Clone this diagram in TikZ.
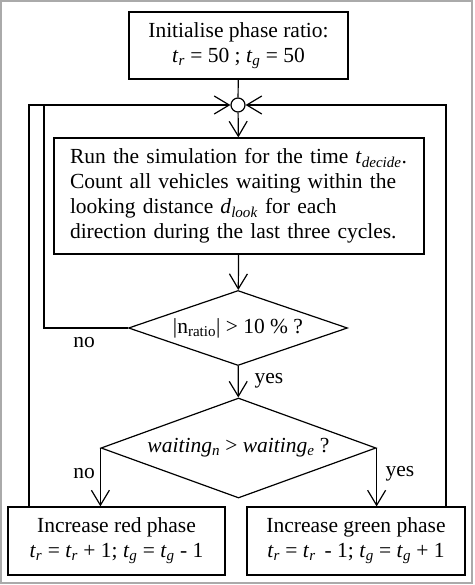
\documentclass[tikz,border=0pt]{standalone}
\usepackage{fontspec}
\setmainfont{Liberation Serif}
\usetikzlibrary{shapes.geometric,arrows.meta}
\newcommand{\tsub}[2]{\textit{#1}\textsubscript{\textit{#2}}}
\tikzset{
  txt/.style = {font=\fontsize{21.5}{25}\selectfont},
  stepbox/.style = {txt, draw, line width=1.2pt, inner sep=0pt, align=center},
  decision/.style = {txt, draw, diamond, line width=1.2pt, inner sep=0pt},
  arr/.style = {-{Straight Barb[length=15pt, width=18pt]}},
}
\begin{document}
\begin{tikzpicture}[x=1pt, y=-1pt, line width=1.2pt]
\definecolor{FrameGray}{RGB}{170, 170, 170}
\useasboundingbox (0,0) rectangle (474,585);
\draw[FrameGray, line width=2.5pt] (1,1) rectangle (472,583);
\node[stepbox, minimum width=219, minimum height=67] (init) at (238.5,45.5) {Initialise phase ratio:\\ \tsub{t}{r} = 50 ; \tsub{t}{g} = 50};
\node[circle, draw, minimum size=14, inner sep=0pt] (join) at (238,105) {};
\node[stepbox, text width=338, inner xsep=16pt, align=left, minimum height=116] (sim) at (239,196) {Run the simulation for the time \tsub{t}{decide}.\\ Count all vehicles waiting within the\\ looking distance \tsub{d}{look} for each\\ direction during the last three cycles.};
\node[decision, shape aspect=2.92, minimum width=219, minimum height=75] (ratio) at (238,328) {|n\textsubscript{ratio}| > 10 \% ?};
\node[decision, shape aspect=2.75, minimum width=275, minimum height=100] (wait) at (238.5,448) {\textit{waiting}\textsubscript{\textit{n}} > \textit{waiting}\textsubscript{\textit{e}} ?};
\node[stepbox, minimum width=217, minimum height=68] (red) at (116.5,541) {Increase red phase\\ \tsub{t}{r} = \tsub{t}{r} + 1; \tsub{t}{g} = \tsub{t}{g} - 1};
\node[stepbox, minimum width=218, minimum height=68] (green) at (356,541) {Increase green phase\\ \tsub{t}{r} = \tsub{t}{r}\, - 1; \tsub{t}{g} = \tsub{t}{g} + 1};
\coordinate (lp) at (29,105);
\coordinate (ip) at (44,105);
\coordinate (rp) at (446,105);
\draw (init) -- (join);
\draw[arr] (join) -- (sim);
\draw[arr] (sim) -- (ratio);
\draw[arr] (ratio) -- (wait);
\draw[arr] (wait.west) -- (wait.west |- red.north);
\draw[arr] (wait.east) -- (wait.east |- green.north);
\draw (ratio.west) -| (ip);
\draw[arr] (red.north -| lp) -- (lp) -- (join.west);
\draw[arr] (green.north -| rp) -- (rp) -- (join.east);
\node[txt] (no1) at (84,343) {no};
\node[txt] (yes1) at (269,381) {yes};
\node[txt] (no2) at (84,474) {no};
\node[txt] (yes2) at (400,474) {yes};
\end{tikzpicture}
\end{document}
